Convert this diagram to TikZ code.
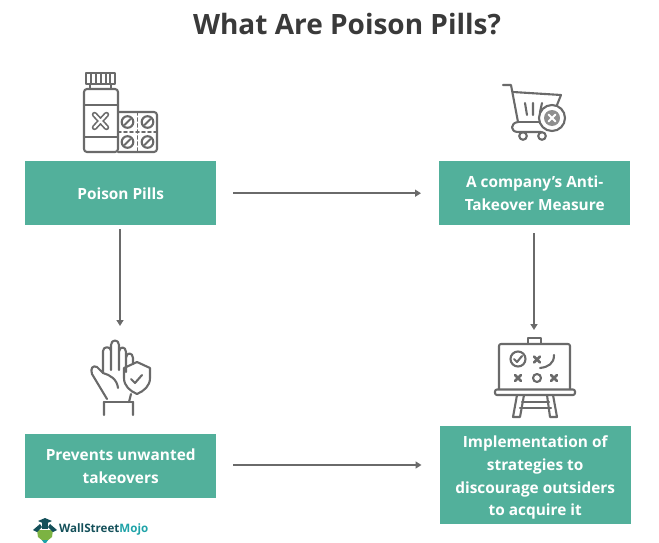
\documentclass[tikz,border=0pt]{standalone}
\usepackage{fontspec}
\setmainfont{Open Sans}
\usetikzlibrary{arrows.meta}
\definecolor{boxgreen}{HTML}{52B09B}
\definecolor{inkgrey}{HTML}{6A6A6A}
\definecolor{titlegrey}{HTML}{3A3A3A}
\definecolor{wsmdark}{HTML}{14505A}
\definecolor{wsmteal}{HTML}{1FA3A8}
\definecolor{wsmgreen}{HTML}{7CB342}
\tikzset{
  x=1pt,y=-1pt,
  card/.style={fill=boxgreen,text=white,font=\bfseries\fontsize{15.4}{22.6}\selectfont,align=center,minimum width=191pt,inner sep=0pt,anchor=north west},
  flow/.style={draw=inkgrey,line width=1.5pt,-{Triangle[length=6pt,width=7pt]}},
  ico/.style={draw=inkgrey,line width=2.1pt,line join=round,line cap=round,fill=none},
  thin ico/.style={draw=inkgrey,line width=1.6pt,line join=round,line cap=round,fill=none},
}
\begin{document}
\begin{tikzpicture}
\useasboundingbox (0,0) rectangle (659,543);
\node[font=\bfseries\fontsize{28}{32}\selectfont,text=titlegrey] (title) at (347,24) {What Are Poison Pills?};

\node[card,minimum height=64pt] (pills) at (25,161) {\rule{0pt}{13.5pt}Poison Pills};
\node[card,minimum height=64pt] (measure) at (439,161) {\rule{0pt}{18pt}\strut A company’s Anti-\\\strut Takeover Measure};
\node[card,minimum height=64pt] (prevent) at (25,434) {\rule{0pt}{18.5pt}\strut Prevents unwanted\\\strut takeovers};
\node[card,minimum height=98pt] (impl) at (439.5,426) {\rule{0pt}{20pt}\strut Implementation of\\\strut strategies to\\\strut discourage outsiders\\\strut to acquire it};

\coordinate (pillsx) at (120,225);
\coordinate (preventx) at (120,434);
\coordinate (measurex) at (534,225);
\coordinate (implx) at (534,426);
\coordinate (preventr) at (216,465);
\coordinate (implr) at (439.5,465);
\draw[flow,shorten <=17pt,shorten >=18pt] (pills.east) -- (measure.west);
\draw[flow,shorten <=17pt,shorten >=18pt] (preventr) -- (implr);
\draw[flow,shorten <=4pt,shorten >=108pt] (pillsx) -- (preventx);
\draw[flow,shorten <=8pt,shorten >=96pt] (measurex) -- (implx);

% bottle icon
\draw[ico] (86,73) rectangle (115,84);
\foreach \x in {91,96,101,106,110} \draw[thin ico] (\x,74) -- (\x,83);
\draw[ico] (90,84) -- (90,89) (111,84) -- (111,89);
\draw[ico,rounded corners=3pt] (84,152) -- (84,89) -- (118,89) -- (118,152) -- cycle;
\draw[ico] (84,105) -- (118,105) (84,137) -- (118,137);
\draw[inkgrey,line width=5.5pt,line cap=round] (94.5,114.5) -- (106.5,127.5) (106.5,114.5) -- (94.5,127.5);
\draw[white,line width=2.2pt,line cap=round] (94.5,114.5) -- (106.5,127.5) (106.5,114.5) -- (94.5,127.5);
\draw[ico,rounded corners=3pt] (118,112) -- (157,112) -- (157,152) -- (118,152);
\draw[thin ico,dashed] (118,132) -- (157,132) (137.5,112) -- (137.5,152);
\foreach \cx/\cy in {127.5/122,147.5/122,127.5/142,147.5/142}{
  \draw[ico] (\cx,\cy) circle (5.8pt);
  \draw[ico] (\cx-3,\cy+3) -- (\cx+3,\cy-3);
}

% cart icon
\draw[ico] (503,85) -- (511,85) -- (518,122);
\draw[ico] (513,92) -- (561,95) -- (555,110);
\draw[ico] (525,103) -- (527,115) (533,103) -- (533,115) (542,103) -- (540,112);
\draw[ico] (518,122) -- (540,122);
\draw[ico] (518,122) .. controls (510,123) and (510,132) .. (518,132) -- (541,132);
\draw[ico] (523,136) circle (3.8pt) (542,136) circle (3.8pt);
\draw[ico,fill=white] (552,118) circle (13pt);
\fill[inkgrey!75] (552,118) circle (8pt);
\draw[white,line width=2pt,line cap=round] (548.5,114.5) -- (555.5,121.5) (555.5,114.5) -- (548.5,121.5);

% hand icon
\draw[ico] (107,399) -- (92,374) .. controls (90,368) and (93,365) .. (97,367) -- (103,373)
  -- (103,351) .. controls (103,346) and (111,346) .. (111,351)
  (111,370) -- (111,345) .. controls (111,339) and (119,339) .. (119,345) -- (119,370)
  (119,352) .. controls (119,346) and (126,346) .. (126,352) -- (126,372)
  (126,358) .. controls (126,352) and (133,352) .. (133,358) -- (133,364);
\draw[ico] (103,373) .. controls (110,375) and (117,379) .. (118,388);
\draw[ico] (104,402) -- (133,402);
\draw[ico] (104,402) -- (104,415) (133,402) -- (133,415) (129,402) -- (131,394);
\draw[ico] (137,362) -- (150,368) -- (150,378) .. controls (150,386) and (144,391) .. (137,394) .. controls (130,391) and (124,386) .. (124,378) -- (124,368) -- cycle;
\draw[ico] (131,379) -- (135,383) -- (142,375);

% board icon
\draw[ico] (528,343) -- (528,338) -- (541,338) -- (541,343);
\draw[ico,rounded corners=2pt] (499,389) -- (499,344) -- (570,344) -- (570,389);
\draw[ico,rounded corners=2pt] (495,389.5) rectangle (575,395);
\draw[ico] (517,395) -- (513,417) -- (520,417) -- (524,395);
\draw[ico] (553,395) -- (557,417) -- (550,417) -- (547,395);
\draw[ico] (522,402) -- (549,402) (520,408) -- (551,408);
\draw[ico] (518,359) circle (7.5pt);
\draw[ico] (514,359) -- (517,362) -- (522,356);
\draw[ico,line width=2.6pt] (534,356.5) -- (540,362.5) (540,356.5) -- (534,362.5);
\draw[ico] (554,355) .. controls (554,364) and (548,367) .. (540,368);
\draw[ico,line width=2.6pt] (515,375) -- (521,381) (521,375) -- (515,381);
\draw[ico] (537,378) circle (4pt);
\draw[ico,line width=2.6pt] (551,375) -- (557,381) (557,375) -- (551,381);

% logo
\fill[wsmgreen] (37,530) -- (53,530) -- (52,537) -- (47,541) -- (43,541) -- (38,537) -- cycle;
\fill[wsmteal] (42,540) -- (48,540) -- (46,543) -- (44,543) -- cycle;
\fill[wsmdark] (33,530) -- (40,524) -- (42,527) -- (37,532) -- cycle;
\fill[wsmdark] (57,530) -- (50,524) -- (48,527) -- (53,532) -- cycle;
\fill[wsmdark] (38,521) -- (45,518) -- (52,521) -- (45,524) -- cycle;
\fill[wsmdark] (42,523) rectangle (48,529);
\node[anchor=west,inner sep=0pt,font=\bfseries\fontsize{11.6}{13}\selectfont] (logo) at (59,529) {\textcolor{wsmdark}{WallStreet}\textcolor{wsmteal}{Mojo}};
\end{tikzpicture}
\end{document}
